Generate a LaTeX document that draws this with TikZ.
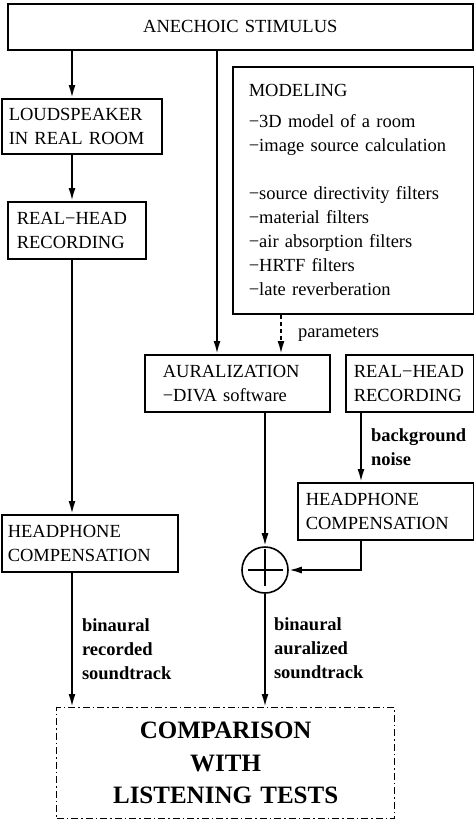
\documentclass[tikz,border=0pt]{standalone}
\usepackage{fontspec}
\setmainfont{Liberation Serif}
\usetikzlibrary{arrows.meta,calc}
\tikzset{>={Latex[length=13pt,width=7pt]}}

\begin{document}
\begin{tikzpicture}[x=1pt,y=-1pt,
    box/.style={draw, line width=1.6pt, align=left, anchor=north west, inner ysep=0pt, minimum height=57pt, font=\fontsize{18.5}{24}\selectfont},
    flow/.style={->, line width=2pt},
    tag/.style={align=left, inner sep=2pt, font=\fontsize{18.5}{24}\selectfont\bfseries}]
                \useasboundingbox (0,0) rectangle (474,820);

                % Draw the boxes
                \node[box, align=center, text width=451pt, inner xsep=7pt, minimum height=46pt] (stim) at (7,3) {ANECHOIC STIMULUS\hspace*{24pt}};
                \node[box, text width=146pt, inner xsep=7pt, minimum height=55pt] (spk) at (1,98) {LOUDSPEAKER\\IN REAL ROOM};
                \node[box, text width=208.5pt, inner xsep=16pt, minimum height=247pt] (model) at (232,66) {MODELING\\[7pt]
                    −3D model of a room\\−image source calculation\\[24pt]
                    −source directivity filters\\−material filters\\−air absorption filters\\−HRTF filters\\−late reverberation};
                \node[box, text width=120pt, inner xsep=9pt] (rechead) at (7,201) {REAL−HEAD\\RECORDING};
                \node[box, text width=164pt, inner xsep=6pt] (hpleft) at (1,514) {HEADPHONE\\COMPENSATION};
                \node[box, text width=149pt, inner xsep=18pt] (aural) at (144,354) {AURALIZATION\\−DIVA software};
                \node[box, text width=111.5pt, inner xsep=8pt] (noisehead) at (345,354) {REAL−HEAD\\RECORDING};
                \node[box, text width=159.5pt, inner xsep=8pt] (hpright) at (297,482) {HEADPHONE\\COMPENSATION};
                \node[box, align=center, text width=326pt, inner xsep=6pt, minimum height=111pt, line width=1.3pt,
                    dash pattern=on 7pt off 3pt on 1.5pt off 3pt, font=\fontsize{25}{32.5}\selectfont\bfseries] (cmp) at (56,707) {COMPARISON\\WITH\\LISTENING TESTS};

                % Draw the summing junction
                \node[draw, circle, line width=1.6pt, minimum size=46pt, inner sep=0pt] (sum) at (265,570) {};
                \draw[line width=1.6pt] ([yshift=-3pt]sum.north) -- ([yshift=8pt]sum.south);
                \draw[line width=1.6pt] ([xshift=7pt]sum.west) -- ([xshift=-6pt]sum.east);

                % Draw the arrows and labels
                \coordinate (lcol) at (72,0);
                \coordinate (mcol) at (217,0);
                \coordinate (pcol) at (281,0);
                \coordinate (ncol) at (361,0);
                \draw[flow] (stim.south -| lcol) -- (spk.north -| lcol);
                \draw[flow] (spk.south -| lcol) -- (rechead.north -| lcol);
                \draw[flow] (rechead.south -| lcol) -- (hpleft.north -| lcol);
                \draw[flow] (hpleft.south -| lcol) -- (cmp.north -| lcol) node[tag, pos=0.57, right=7pt] {binaural\\recorded\\soundtrack};
                \draw[flow] (stim.south -| mcol) -- (aural.north -| mcol);
                \draw[flow, dash pattern=on 4pt off 3pt] (model.south -| pcol) -- (aural.north -| pcol)
                    node[midway, right=14pt, inner sep=2pt, font=\fontsize{18.5}{24}\selectfont] {parameters};
                \draw[flow] (noisehead.south -| ncol) -- (hpright.north -| ncol) node[tag, midway, right=7pt] {background\\noise};
                \draw[flow] (aural.south -| sum.north) -- (sum.north);
                \draw[flow] (hpright.south -| ncol) |- (sum.east);
                \draw[flow] (sum.south) -- (cmp.north -| sum.south) node[tag, pos=0.48, right=6pt] {binaural\\auralized\\soundtrack};
\end{tikzpicture}
\end{document}
